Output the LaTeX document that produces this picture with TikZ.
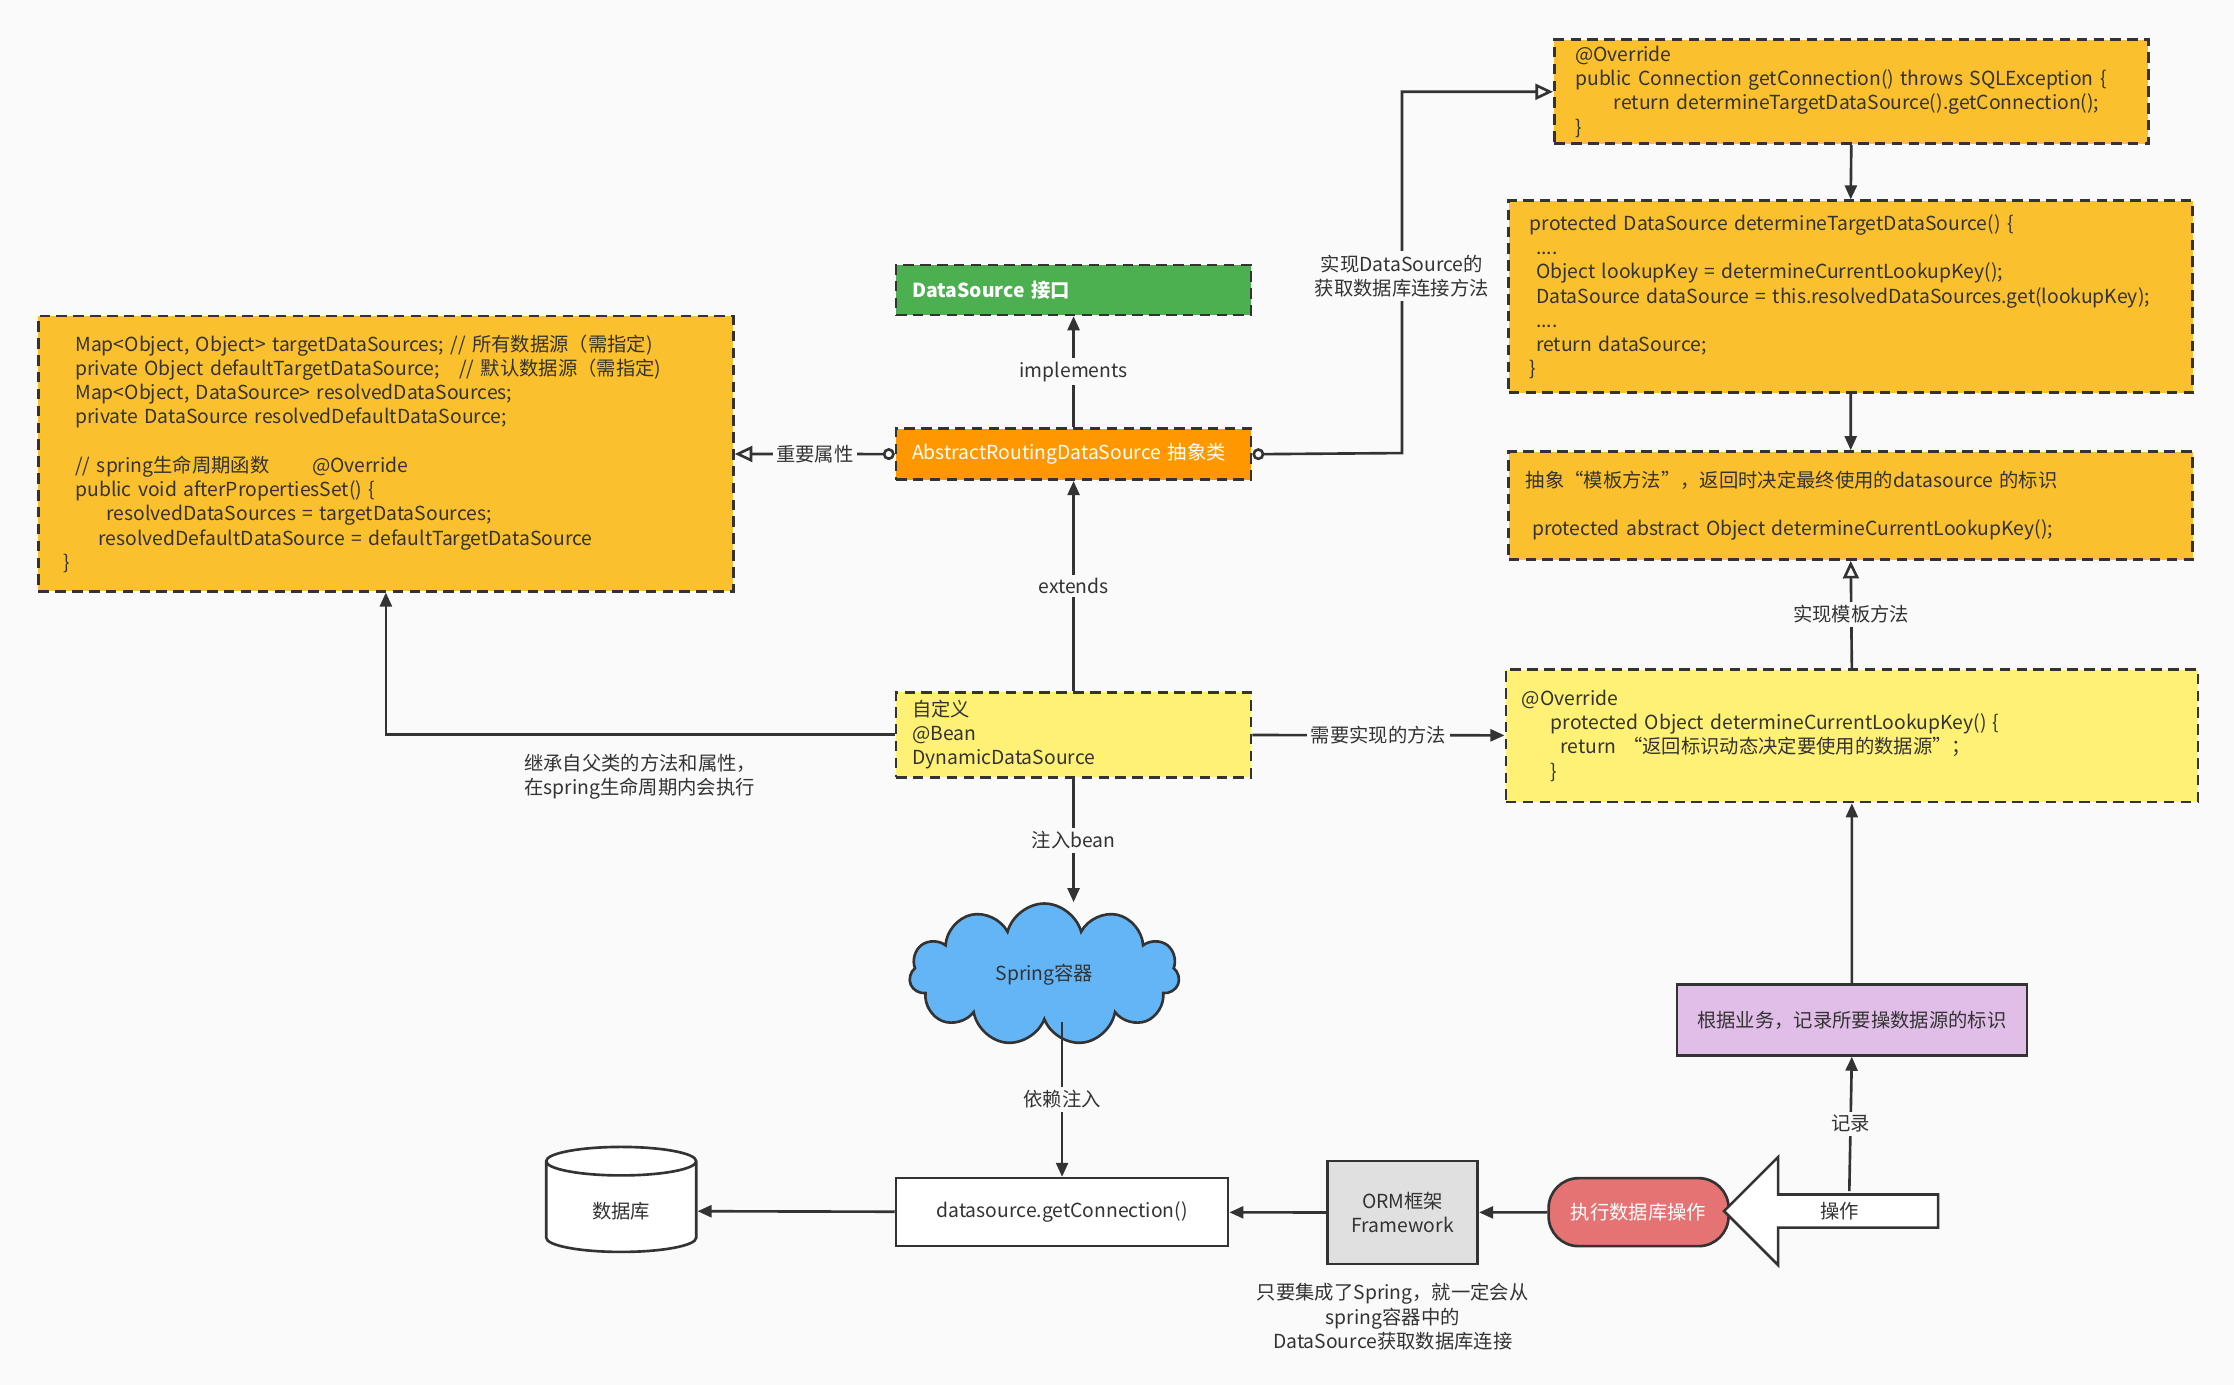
\documentclass[tikz,border=0pt]{standalone}
\usepackage{fontspec}
\setmainfont{Noto Sans CJK SC}
\usetikzlibrary{arrows.meta, positioning, shapes.geometric, shapes.symbols, shapes.arrows}
\definecolor{bg}{HTML}{FAFAFA}
\definecolor{ink}{HTML}{333333}
\definecolor{gold}{HTML}{FBC02D}
\definecolor{lemon}{HTML}{FFF176}
\definecolor{leaf}{HTML}{4CAF50}
\definecolor{amber}{HTML}{FF9800}
\definecolor{lilac}{HTML}{E1BEE7}
\definecolor{rose}{HTML}{E57373}
\definecolor{ash}{HTML}{E0E0E0}
\definecolor{sky}{HTML}{64B5F6}
\def\px{0.14247mm}
\tikzset{
  box/.style={draw=ink, line width=0.75pt, text=ink, anchor=north west, inner ysep=0pt},
  code/.style={box, fill=gold, dash pattern=on 3pt off 1.8pt, align=left, inner xsep=2.1mm},
  lbl/.style={fill=bg, text=ink, inner sep=1pt},
}
\begin{document}
\begin{tikzpicture}[x=\px, y=-\px, line width=0.75pt, draw=ink,
    >={Triangle[length=4pt,width=3.4pt]}, font=\fontsize{5.5}{6.9}\selectfont]
  \useasboundingbox[fill=bg] (0,0) rectangle (1568,972);

  % left column
  \node [code, inner xsep=3.7mm, text width=62.1mm, minimum height=27.5mm] (attr) at (26,221)
    {Map<Object, Object> targetDataSources; // 所有数据源（需指定)\\
     private Object defaultTargetDataSource;\ \ \ // 默认数据源（需指定)\\
     Map<Object, DataSource> resolvedDataSources;\\
     private DataSource resolvedDefaultDataSource;\\[6.9pt]
     // spring生命周期函数\hspace{2.2em}@Override\\
     public void afterPropertiesSet() \{\\
     \hspace{1.6em}resolvedDataSources = targetDataSources;\\
     \hspace{1.2em}resolvedDefaultDataSource = defaultTargetDataSource\\
     \hspace{-0.6em}\}};

  % middle column
  \node [box, fill=leaf, text=white, dash pattern=on 3pt off 1.8pt, align=left, inner xsep=1.6mm,
    text width=32.3mm, minimum height=5mm, font=\fontsize{5.5}{6.9}\selectfont\bfseries] (ds) at (628,185) {DataSource 接口};
  \node [box, draw=ink, fill=amber, text=white, dash pattern=on 3pt off 1.8pt, align=left, inner xsep=1.6mm,
    text width=32.3mm, minimum height=5.1mm] (abs) at (628,300) {AbstractRoutingDataSource 抽象类};
  \node [box, fill=lemon, dash pattern=on 3pt off 1.8pt, align=left, inner xsep=1.6mm,
    text width=32.3mm, minimum height=8.5mm] (cust) at (628,485) {自定义\\@Bean\\DynamicDataSource};
  \node [cloud, cloud puffs=11, aspect=1.9, draw=ink, fill=sky, text=ink, minimum width=27mm,
    minimum height=14.2mm] (spring) at (733,684) {Spring容器};
  \node [box, fill=white, minimum width=33.2mm, minimum height=6.8mm] (getc) at (628,826) {datasource.getConnection()};
  \node [cylinder, shape border rotate=90, aspect=0.35, draw=ink, fill=white, text=ink,
    minimum width=15mm, minimum height=10.5mm] (db) at (436,850) {数据库};
  \node [box, fill=ash, align=center, minimum width=15mm, minimum height=10.3mm] (orm) at (931,814) {ORM框架\\Framework};
  \node [box, fill=rose, text=white, rounded corners=3mm, minimum width=18mm, minimum height=6.8mm] (run) at (1086,826) {执行数据库操作};
  \node [single arrow, shape border rotate=180, draw=ink, fill=white, text=ink, minimum height=21.4mm,
    minimum width=10.8mm, single arrow head extend=3.56mm, inner ysep=0.55mm, inner xsep=2mm] (op) at (1291,850) {操作};

  % right column
  \node [code, text width=55.2mm, minimum height=10.4mm] (conn) at (1090,27)
    {@Override\\
     public Connection getConnection() throws SQLException \{\\
     \hspace{2em}return determineTargetDataSource().getConnection();\\
     \}};
  \node [code, text width=64.2mm, minimum height=19.2mm] (dts) at (1058,140)
    {protected DataSource determineTargetDataSource() \{\\
     \ ....\\
     \ Object lookupKey = determineCurrentLookupKey();\\
     \ DataSource dataSource = this.resolvedDataSources.get(lookupKey);\\
     \ ....\\
     \ return dataSource;\\
     \}};
  \node [code, inner xsep=1.7mm, text width=65mm, minimum height=10.8mm] (lk) at (1058,316)
    {抽象“模板方法”，返回时决定最终使用的datasource 的标识\\[6.9pt]
     \ protected abstract Object determineCurrentLookupKey();};
  \node [code, fill=lemon, inner xsep=1.6mm, text width=66mm, minimum height=13.25mm] (impl) at (1056,469)
    {@Override\\
     \hspace{1.5em}protected Object determineCurrentLookupKey() \{\\
     \hspace{2em}return “返回标识动态决定要使用的数据源”；\\
     \hspace{1.5em}\}};
  \node [box, fill=lilac, minimum width=35mm, minimum height=7.1mm] (mark) at (1176,690) {根据业务，记录所要操数据源的标识};

  \coordinate (bend) at (984,318);
  \coordinate (rec) at (1298,836);

  % connectors
  \draw[->] (abs) -- node[lbl] {implements} (ds);
  \draw[->] (cust) -- node[lbl] {extends} (abs);
  \draw[{Circle[open,length=3.4pt]}-{Triangle[open,length=5pt,width=4.5pt]}] (abs) -- node[lbl] {重要属性} (attr);
  \draw[{Circle[open,length=3.4pt]}-{Triangle[open,length=5pt,width=4.5pt]}] (abs.east) -- (bend) |- node[lbl, pos=0.245, align=center] {实现DataSource的\\获取数据库连接方法} (conn.west);
  \draw[->] (conn.south) -- (dts.north);
  \draw[->] (dts.south) -- (lk.north);
  \draw[-{Triangle[open,length=5pt,width=4.5pt]}] (impl.north) -- node[lbl] {实现模板方法} (lk.south);
  \draw[->] (cust.west) -| node[pos=0.25, below=0.6mm, align=left, text=ink] {继承自父类的方法和属性，\\在spring生命周期内会执行} (attr.south);
  \draw[->] (cust) -- node[lbl] {需要实现的方法} (impl);
  \draw[->] (cust.south) -- node[lbl] {注入bean} (cust.south |- spring.north);
  \draw[->] (getc.north |- spring.south) -- node[lbl] {依赖注入} (getc.north);
  \draw[->] (getc) -- (db);
  \draw[->] (orm) -- (getc);
  \draw[->] (run) -- (orm);
  \draw[->] (rec) -- node[lbl] {记录} (mark.south);
  \draw[->] (mark.north) -- (impl.south);
  \node [below=0.5mm of orm, align=center, text=ink, xshift=-1mm] (note)
    {只要集成了Spring，就一定会从\\spring容器中的\\DataSource获取数据库连接};
\end{tikzpicture}
\end{document}
